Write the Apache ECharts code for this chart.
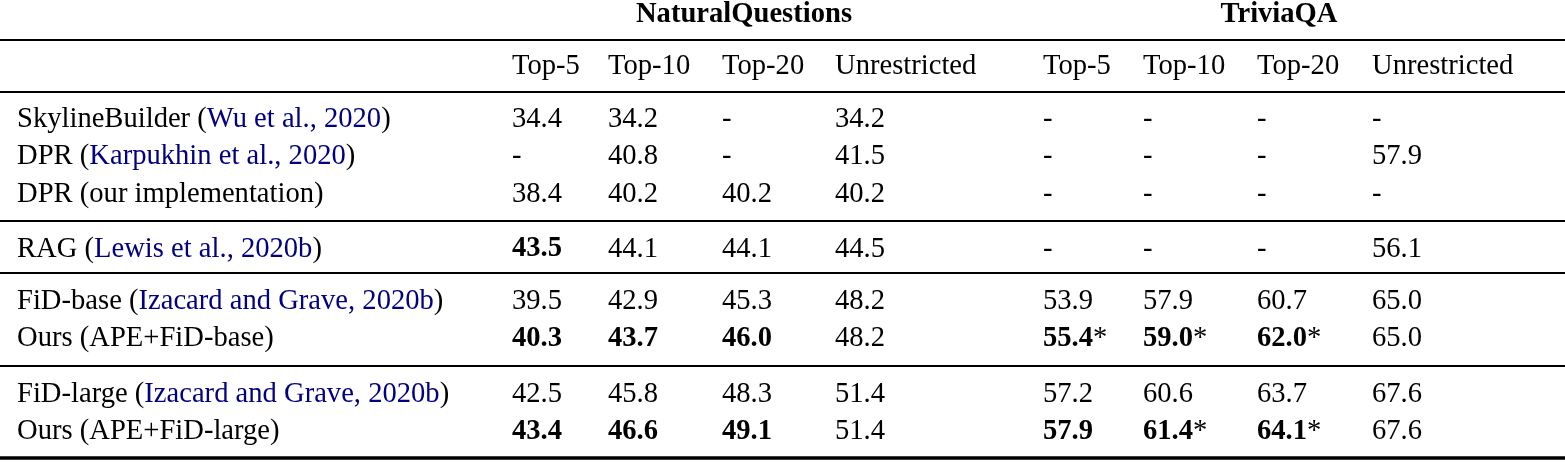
<!DOCTYPE html>
<html>
<head>
<meta charset="utf-8">
<script src="https://cdn.jsdelivr.net/npm/echarts@6/dist/echarts.min.js"></script>
<style>
html,body{margin:0;padding:0;background:#fff;}
#chart{width:1565px;height:462px;}
</style>
</head>
<body>
<div id="chart"></div>
<script>
// ---------------- data ----------------
const datasetNames = ['NaturalQuestions', 'TriviaQA'];
const columnHeaders = ['Top-5', 'Top-10', 'Top-20', 'Unrestricted'];

const methodNames = ['SkylineBuilder', 'DPR', 'DPR', 'RAG', 'FiD-base', 'Ours', 'FiD-large', 'Ours'];
const methodCites = ['Wu et al., 2020', 'Karpukhin et al., 2020', '', 'Lewis et al., 2020b',
                     'Izacard and Grave, 2020b', '', 'Izacard and Grave, 2020b', ''];
const methodNotes = ['', '', 'our implementation', '', '', 'APE+FiD-base', '', 'APE+FiD-large'];

// null = "-"
const nqTop5   = [34.4, null, 38.4, 43.5, 39.5, 40.3, 42.5, 43.4];
const nqTop10  = [34.2, 40.8, 40.2, 44.1, 42.9, 43.7, 45.8, 46.6];
const nqTop20  = [null, null, 40.2, 44.1, 45.3, 46.0, 48.3, 49.1];
const nqUnres  = [34.2, 41.5, 40.2, 44.5, 48.2, 48.2, 51.4, 51.4];
const tqaTop5  = [null, null, null, null, 53.9, 55.4, 57.2, 57.9];
const tqaTop10 = [null, null, null, null, 57.9, 59.0, 60.6, 61.4];
const tqaTop20 = [null, null, null, null, 60.7, 62.0, 63.7, 64.1];
const tqaUnres = [null, 57.9, null, 56.1, 65.0, 65.0, 67.6, 67.6];

// row indices shown in bold / with a star, per value column
const boldRows = [[3, 5, 7], [5, 7], [5, 7], [], [5, 7], [5, 7], [5, 7], []];
const starRows = [[], [], [], [], [5], [5, 7], [5, 7], []];

// ---------------- layout ----------------
const W = 1565, H = 462;
const colX = [512, 608, 722, 835, 1043, 1143, 1257, 1372];
const methodX = 17;
const groupX = [744, 1279];
const groupY = 15;
const headerY = 66;
const rowY = [119, 156.5, 194, 249, 301, 338.5, 394, 431.5];
const thinRules = [40, 92, 221, 273, 366];
const bottomRule = 458;
const FONT = "'Liberation Serif', 'Times New Roman', 'DejaVu Serif', serif";
const FS = 28.6;
const CITE = '#000080';

const columns = [nqTop5, nqTop10, nqTop20, nqUnres, tqaTop5, tqaTop10, tqaTop20, tqaUnres];

const cells = [];
datasetNames.forEach((n, i) => {
  cells.push({value: [groupX[i], groupY], label: {formatter: '{h|' + n + '}', align: 'center'}});
});
colX.forEach((x, i) => {
  cells.push({value: [x, headerY], label: {formatter: columnHeaders[i % 4]}});
});
methodNames.forEach((m, r) => {
  let txt = m;
  if (methodCites[r]) txt += ' ({c|' + methodCites[r] + '})';
  else if (methodNotes[r]) txt += ' (' + methodNotes[r] + ')';
  cells.push({value: [methodX, rowY[r]], label: {formatter: txt}});
});
columns.forEach((col, c) => {
  col.forEach((v, r) => {
    let txt = v === null ? '-' : v.toFixed(1);
    if (v !== null && boldRows[c].indexOf(r) >= 0) txt = '{b|' + txt + '}';
    if (starRows[c].indexOf(r) >= 0) txt += '*';
    cells.push({value: [colX[c], rowY[r]], label: {formatter: txt}});
  });
});

const chart = echarts.init(document.getElementById('chart'), null, {renderer: 'canvas'});
chart.setOption({
  animation: false,
  backgroundColor: '#fff',
  grid: {left: 0, right: 0, top: 0, bottom: 0},
  xAxis: {type: 'value', min: 0, max: W, show: false},
  yAxis: {type: 'value', min: 0, max: H, inverse: true, show: false},
  series: [{
    type: 'scatter',
    symbolSize: 0,
    silent: true,
    itemStyle: {opacity: 1},
    emphasis: {disabled: true},
    data: cells,
    label: {
      show: true,
      position: 'inside',
      align: 'left',
      verticalAlign: 'middle',
      opacity: 1,
      fontFamily: FONT,
      fontSize: FS,
      color: '#000',
      rich: {
        b: {fontFamily: FONT, fontSize: FS, fontWeight: 'bold', color: '#000'},
        c: {fontFamily: FONT, fontSize: FS, color: CITE},
        h: {fontFamily: FONT, fontSize: FS, fontWeight: 'bold', color: '#000'}
      }
    },
    markLine: {
      silent: true,
      symbol: ['none', 'none'],
      label: {show: false},
      lineStyle: {color: '#000', width: 1.8, type: 'solid', opacity: 1},
      data: thinRules.map(y => ({yAxis: y})).concat([{yAxis: bottomRule, lineStyle: {width: 3.5, color: '#000', type: 'solid', opacity: 1}}])
    }
  }]
});
</script>
</body>
</html>
